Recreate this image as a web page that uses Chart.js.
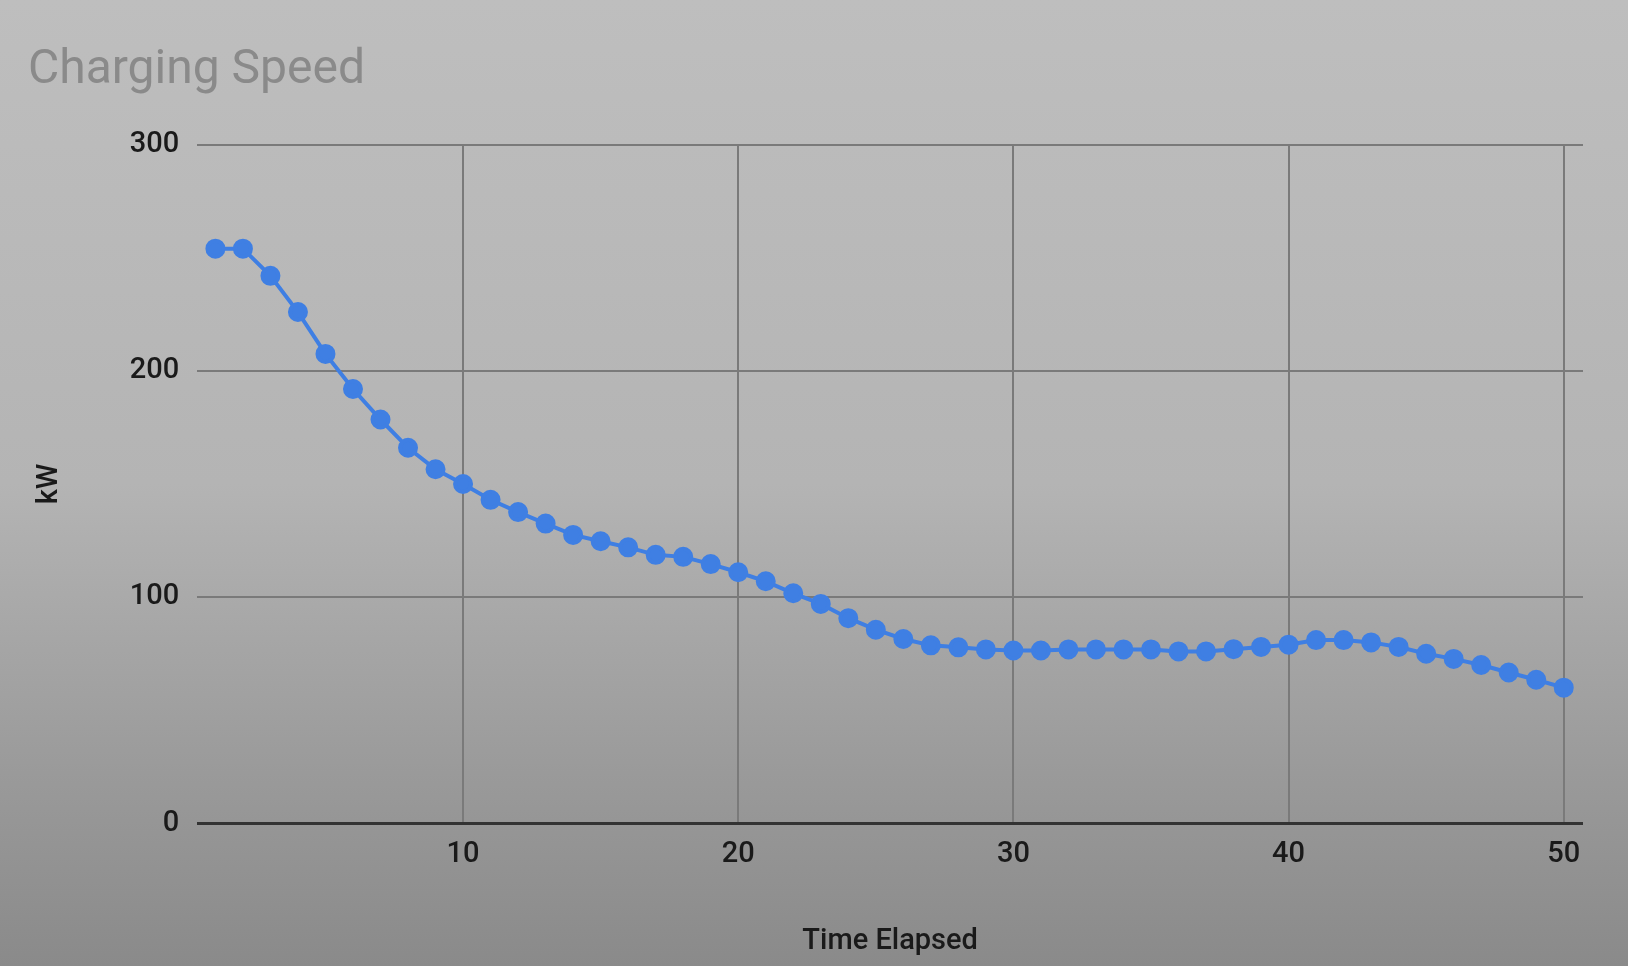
<!DOCTYPE html>
<html><head><meta charset="utf-8">
<script src="https://cdn.jsdelivr.net/npm/chart.js@4"></script>
<style>
html,body{margin:0;padding:0;width:1628px;height:966px;overflow:hidden;
background:linear-gradient(180deg,#bebebe 0%,#b4b4b4 50%,#9a9a9a 80%,#8a8a8a 100%);}
#w{position:absolute;left:0;top:0;width:1628px;height:966px;}
</style></head><body>
<div id="w"><canvas id="c" width="1628" height="966"></canvas></div>
<script>
const timeElapsed = Array.from({length:50},(_,i)=>i+1);
const kW = [254,254,242,226,207.5,192,178.5,166,156.5,150,143,137.6,132.5,127.5,124.7,122,118.7,117.8,114.6,111,
107,101.7,97,90.7,85.6,81.5,78.7,77.8,76.9,76.4,76.4,76.9,76.9,76.9,76.9,76,76,77,78,79,
81,81,80,78,75,72.7,70,66.7,63.5,60];
const xTicks = [10,20,30,40,50];
const yTicks = [0,100,200,300];

new Chart(document.getElementById('c'),{
  type:'line',
  data:{datasets:[{data:timeElapsed.map((x,i)=>({x,y:kW[i]})),borderColor:'#3f7fe3',backgroundColor:'#3f7fe3',
    borderWidth:4,pointRadius:8,pointHoverRadius:8,pointStyle:'circle',tension:0}]},
  options:{responsive:false,animation:false,
    layout:{padding:{left:28,right:45,top:24,bottom:3}},
    plugins:{legend:{display:false},tooltip:{enabled:false},
      title:{display:true,text:'Charging Speed',align:'start',color:'#8a8a8a',
        font:{family:'Roboto',size:48,weight:'normal'},padding:{top:18,bottom:45}}},
    scales:{
      x:{type:'linear',min:0.34,max:50.7,
        afterBuildTicks:s=>{s.ticks=xTicks.map(v=>({value:v}));},
        grid:{color:'#7a7a7a',lineWidth:2,drawTicks:false},border:{display:false},
        ticks:{color:'#1a1a1a',font:{family:'Roboto',size:29,weight:'500'},padding:14},
        title:{display:true,text:'Time Elapsed',color:'#1a1a1a',font:{family:'Roboto',size:29,weight:'500'},padding:{top:38}}},
      y:{min:0,max:300,
        afterBuildTicks:s=>{s.ticks=yTicks.map(v=>({value:v}));},
        grid:{color:c=>c.tick&&c.tick.value===0?'#333':'#7a7a7a',lineWidth:c=>c.tick&&c.tick.value===0?3:2,drawTicks:false},
        border:{display:false},
        ticks:{color:'#1a1a1a',font:{family:'Roboto',size:29,weight:'500'},padding:18},
        title:{display:true,text:'kW',color:'#1a1a1a',font:{family:'Roboto',size:29,weight:'500'},padding:{bottom:45}}}
    }}
});
</script></body></html>
